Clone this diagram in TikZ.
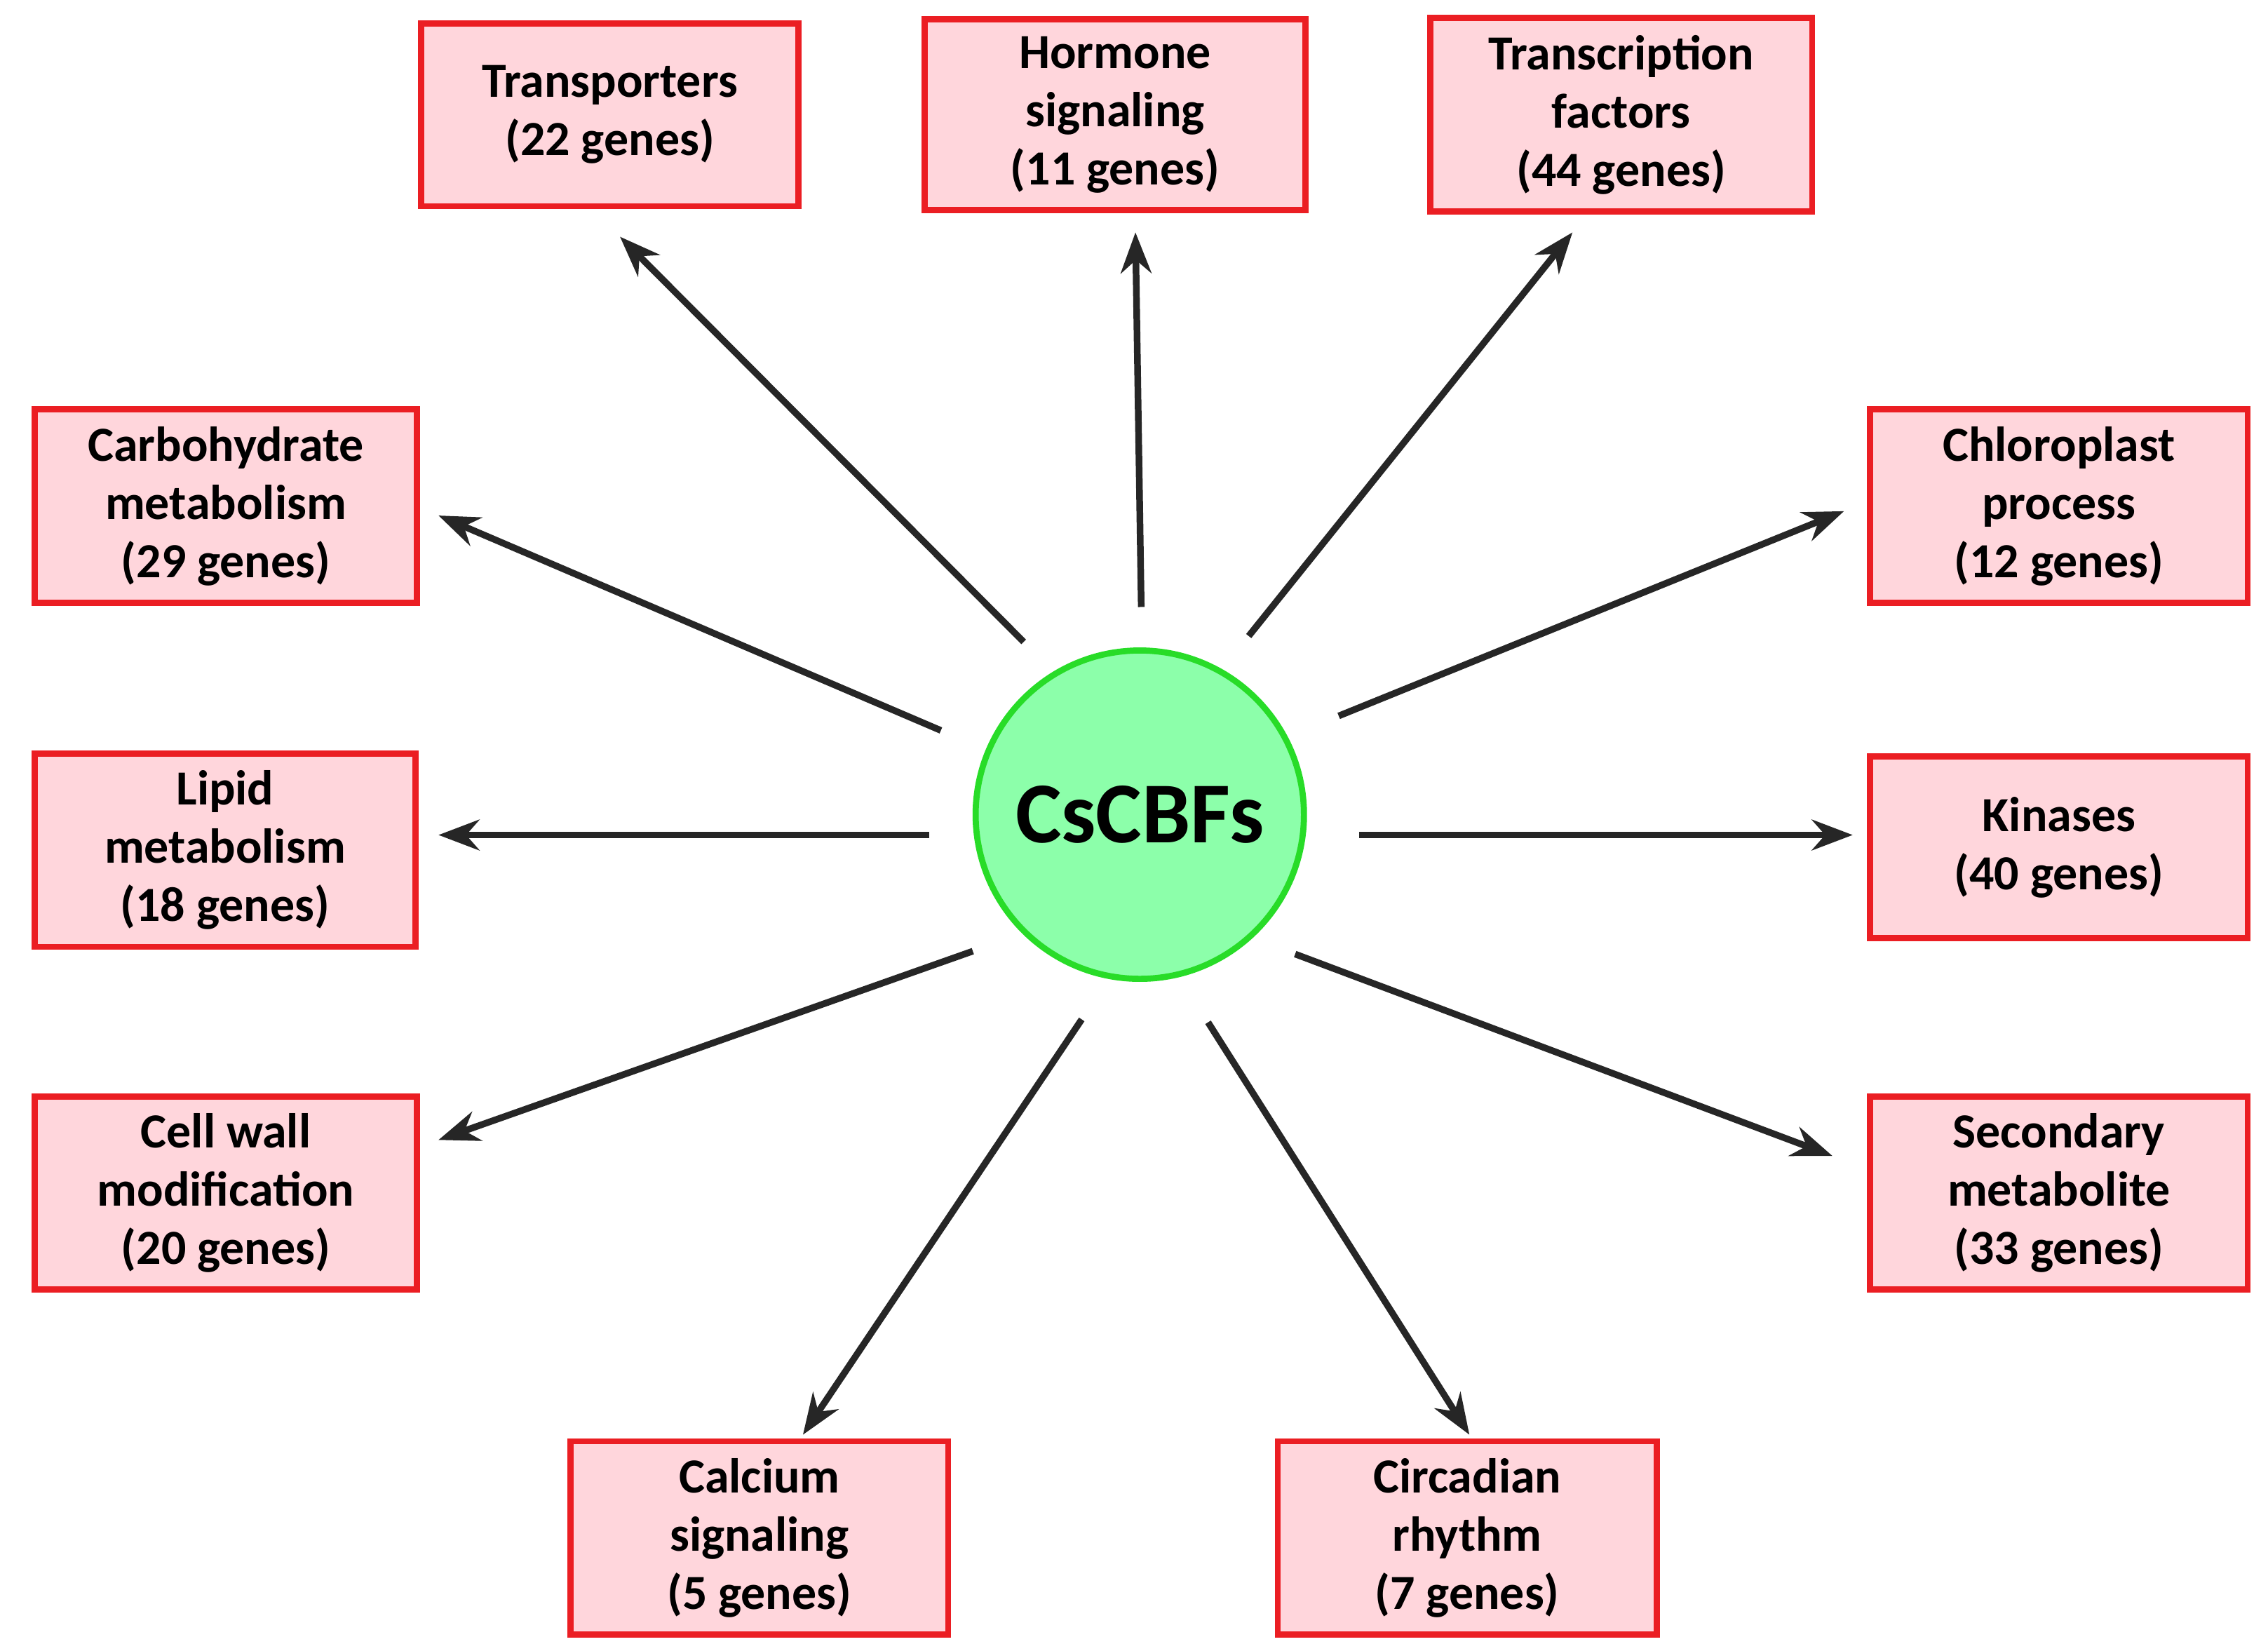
\documentclass[tikz,border=0pt]{standalone}
\usepackage{fontspec}
\setmainfont{Carlito}
\usetikzlibrary{arrows.meta}
\definecolor{boxfill}{RGB}{255,214,220}
\definecolor{boxline}{RGB}{235,30,35}
\definecolor{cfill}{RGB}{140,255,170}
\definecolor{cline}{RGB}{40,220,40}
\begin{document}
\begin{tikzpicture}[x=0.01cm,y=-0.01cm,
  gbox/.style={draw=boxline,line width=1.2pt,fill=boxfill,align=center,font=\fontsize{9.6}{11.4}\selectfont\bfseries},
  arr/.style={-{Stealth[length=8pt,width=6pt]},line width=1.3pt,black!85}]
\useasboundingbox (0,0) rectangle (1562,1132);
\newcommand{\gb}[6]{\node[gbox,minimum width={(#3-#1)*0.01cm},minimum height={(#4-#2)*0.01cm}] (#5) at ({(#1+#3)/2},{(#2+#4)/2}) {#6};}
\gb{290}{16}{550}{142}{tr}{Transporters\\(22 genes)}
\gb{637}{16}{899}{142}{ho}{Hormone\\signaling\\(11 genes)}
\gb{985}{16}{1248}{142}{tf}{Transcription\\factors\\(44 genes)}
\gb{24}{286}{287}{411}{ca}{Carbohydrate\\metabolism\\(29 genes)}
\gb{1288}{286}{1548}{411}{ch}{Chloroplast\\process\\(12 genes)}
\gb{24}{523}{286}{648}{li}{Lipid\\metabolism\\(18 genes)}
\gb{1288}{521}{1548}{646}{ki}{Kinases\\(40 genes)}
\gb{24}{759}{287}{884}{cw}{Cell wall\\modification\\(20 genes)}
\gb{1288}{759}{1548}{884}{se}{Secondary\\metabolite\\(33 genes)}
\gb{393}{997}{653}{1121}{cs}{Calcium\\signaling\\(5 genes)}
\gb{880}{997}{1141}{1121}{cr}{Circadian\\rhythm\\(7 genes)}
\node[circle,draw=cline,line width=1.2pt,fill=cfill,minimum size=2.26cm,font=\fontsize{17}{20}\selectfont\bfseries] (c) at (785,561) {CsCBFs};
\foreach \n/\sx/\sy/\ex/\ey in {tr/705/442/427/163, ho/786/418/782/160, tf/860/438/1083/160,
  ca/648/503/302/355, ch/922/493/1270/352, li/640/575/302/575, ki/936/575/1276/575,
  cw/670/655/302/785, se/892/657/1262/796, cs/745/702/553/988, cr/832/704/1012/988}{
  \coordinate (s\n) at (\sx,\sy); \coordinate (e\n) at (\ex,\ey);
  \draw[arr] (s\n) -- (e\n);}
\end{tikzpicture}
\end{document}
